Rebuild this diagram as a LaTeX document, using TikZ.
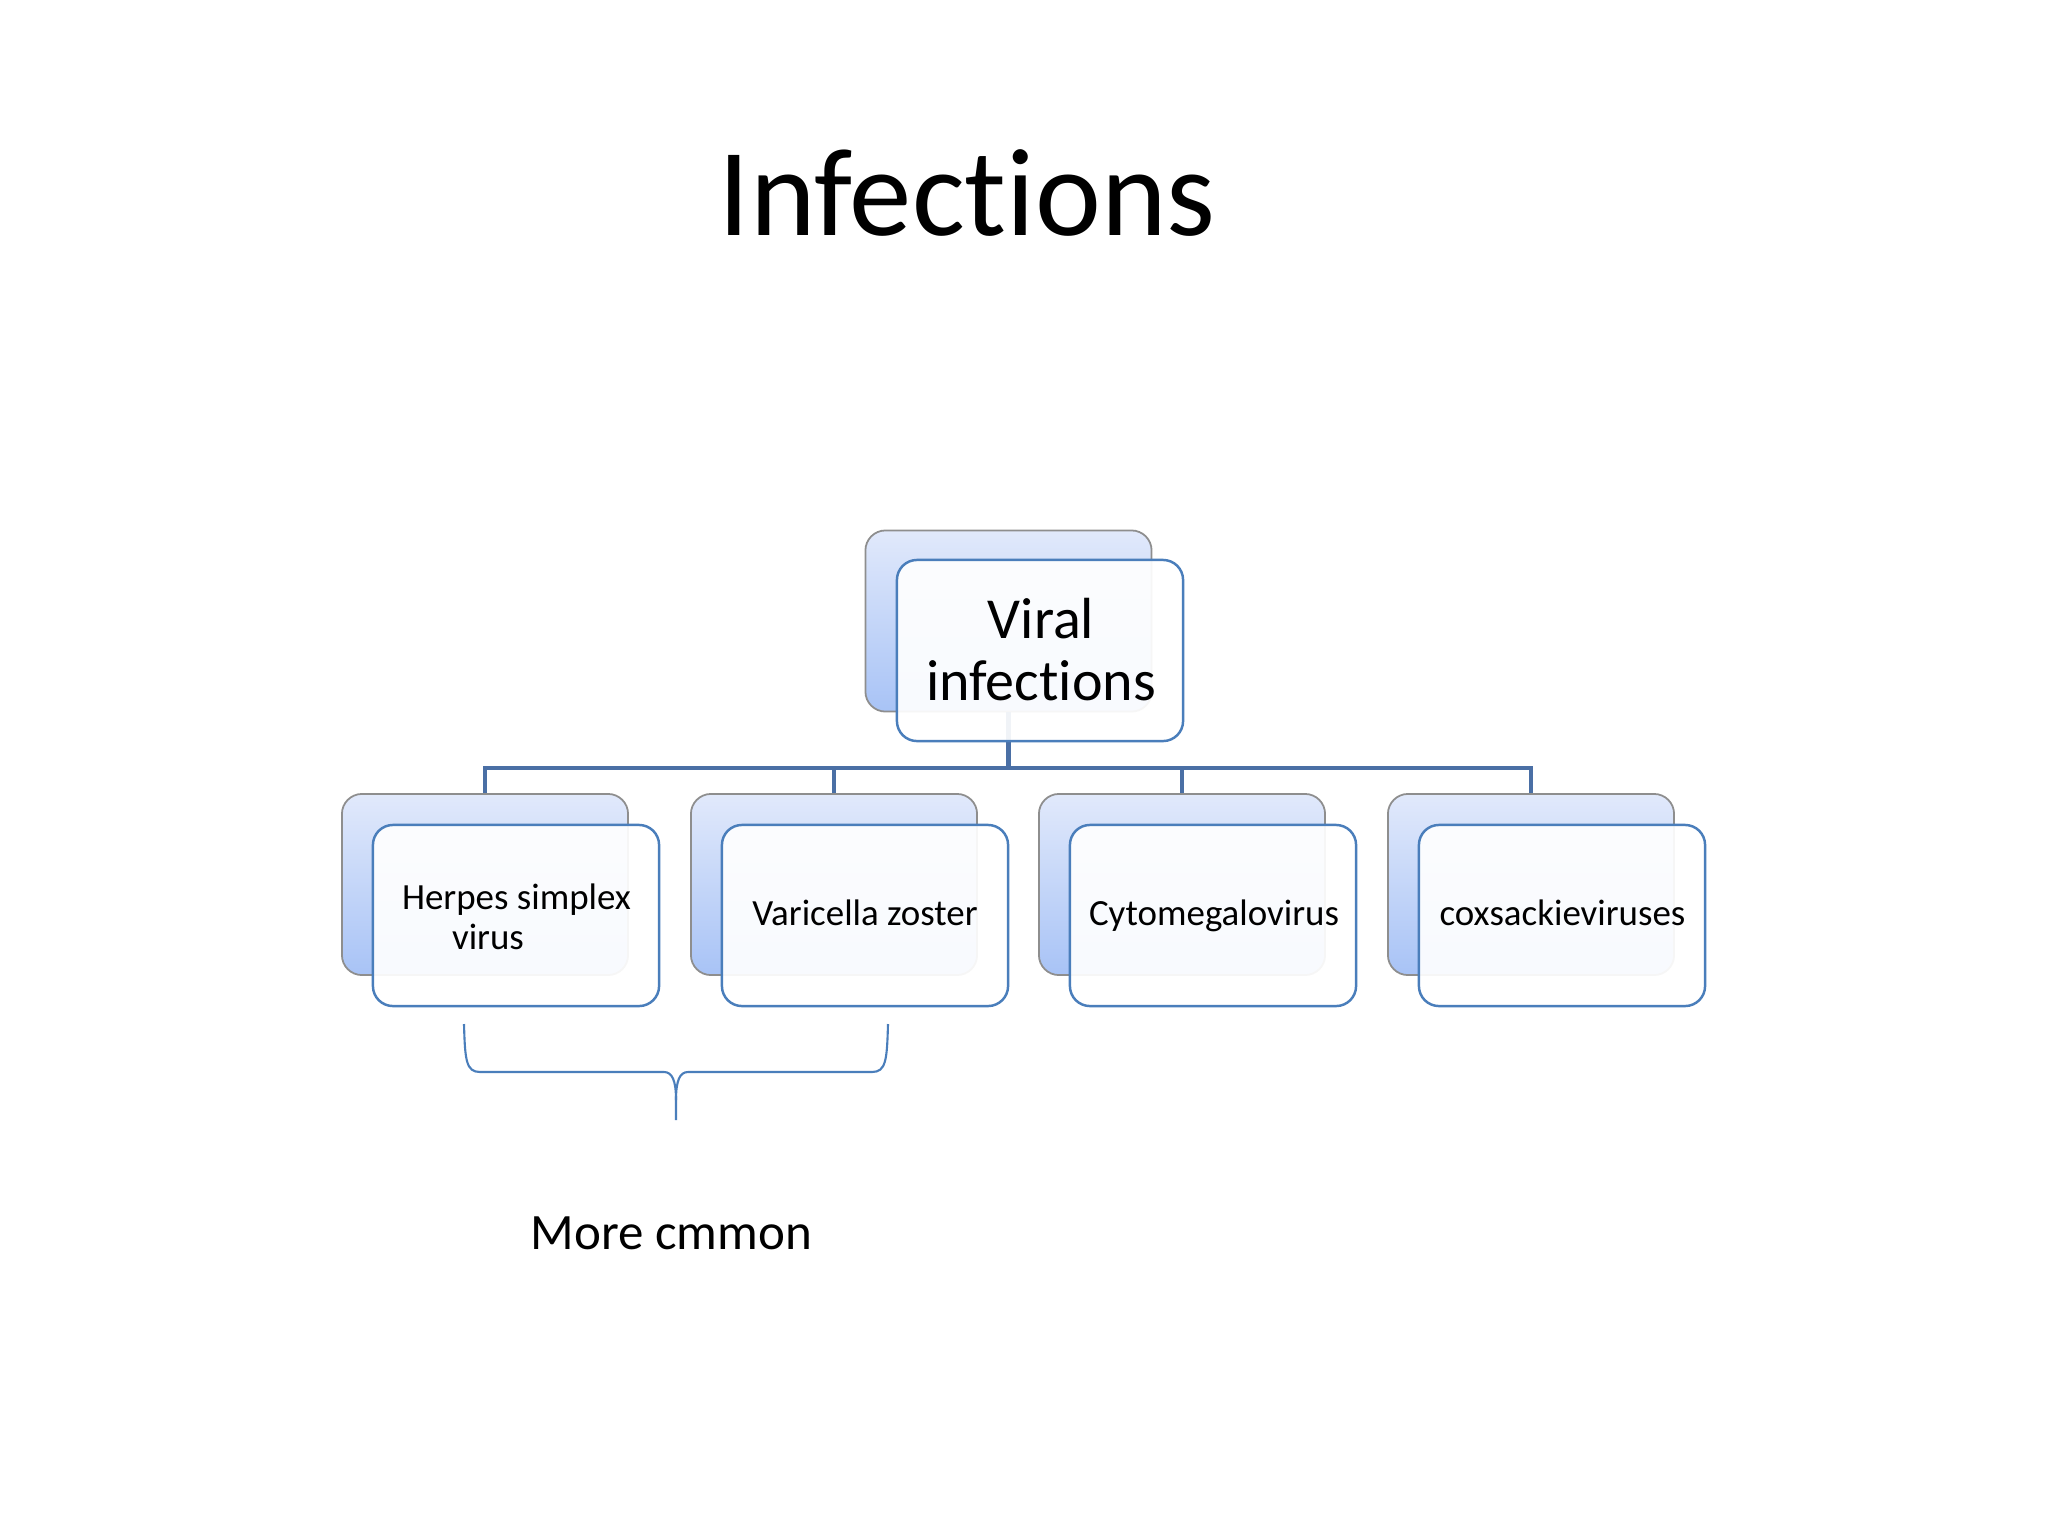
\documentclass[tikz,border=0pt]{standalone}
\usepackage{fontspec}
\setmainfont{Carlito}[Ligatures=NoCommon]
\usetikzlibrary{calc}
\definecolor{connblue}{HTML}{4A6FA5}
\definecolor{frameblue}{HTML}{4A7EBB}
\definecolor{backtop}{HTML}{E1E9FB}
\definecolor{backbot}{HTML}{A8C3F6}
\definecolor{backedge}{HTML}{8E8E8E}
\tikzset{
  backbox/.style={draw=backedge, line width=0.5pt, rounded corners=0.2cm,
    top color=backtop, bottom color=backbot, minimum width=2.86cm, minimum height=1.81cm, inner sep=0pt},
  frontbox/.style={draw=frameblue, line width=0.7pt, rounded corners=0.2cm,
    fill=white, fill opacity=0.92, text opacity=1, minimum width=2.86cm, minimum height=1.81cm, inner sep=0pt},
  conn/.style={draw=connblue, line width=1.4pt},
  bracestyle/.style={draw=frameblue, line width=0.6pt},
  childtext/.style={font=\fontsize{10.5pt}{11.4pt}\selectfont, inner sep=0pt},
}
\begin{document}
\begin{tikzpicture}[x=0.01cm,y=-0.01cm]
\useasboundingbox (0,0) rectangle (2048,1536);
\fill[white] (0,0) rectangle (2048,1536);

% title
\node[inner sep=0pt, anchor=base, font=\fontsize{35.5pt}{38pt}\selectfont] (title) at (967,235) {Infections};

% back boxes
\node[backbox] (topb) at (1008.5,621) {};
\node[backbox] (c1b) at (485,884.5) {};
\node[backbox] (c2b) at (834,884.5) {};
\node[backbox] (c3b) at (1182,884.5) {};
\node[backbox] (c4b) at (1531,884.5) {};

% connectors
\coordinate (bar) at (1008,768);
\draw[conn] (topb.south) -- (topb.south |- bar) -| (c1b.north);
\draw[conn] (topb.south) -- (topb.south |- bar) -| (c2b.north);
\draw[conn] (topb.south) -- (topb.south |- bar) -| (c3b.north);
\draw[conn] (topb.south) -- (topb.south |- bar) -| (c4b.north);

% front boxes
\node[frontbox] (topf) at (1040,650.5) {};
\node[frontbox] (c1f) at (516,915.5) {};
\node[frontbox] (c2f) at (865,915.5) {};
\node[frontbox] (c3f) at (1213,915.5) {};
\node[frontbox] (c4f) at (1562,915.5) {};

% texts
\node[inner sep=0pt, align=center, font=\fontsize{16.5pt}{17.6pt}\selectfont] (toptext) at (1041,650) {Viral\\infections};
\node[childtext, align=left] (t1) at (516.5,917) {Herpes simplex\\\hspace*{0.5cm}virus};
\node[childtext, anchor=base] (t2) at (865,925) {Varicella zoster};
\node[childtext, anchor=base] (t3) at (1214,925) {Cytomegalovirus};
\node[childtext, anchor=base] (t4) at (1562.5,925) {coxsackieviruses};

% brace
\coordinate (bl) at (464,1024);
\coordinate (br) at (888,1024);
\coordinate (btip) at (676,1120);
\draw[bracestyle] (bl) .. controls (465,1060) and (466,1072) .. (480,1072)
  -- (664,1072) .. controls (672,1072) and (676,1080) .. (676,1100) -- (btip);
\draw[bracestyle] (br) .. controls (887,1060) and (886,1072) .. (872,1072)
  -- (688,1072) .. controls (680,1072) and (676,1080) .. (676,1100);

\node[inner sep=0pt, anchor=base, font=\fontsize{14.5pt}{16pt}\selectfont] (more) at (671.5,1249) {More cmmon};
\end{tikzpicture}
\end{document}
